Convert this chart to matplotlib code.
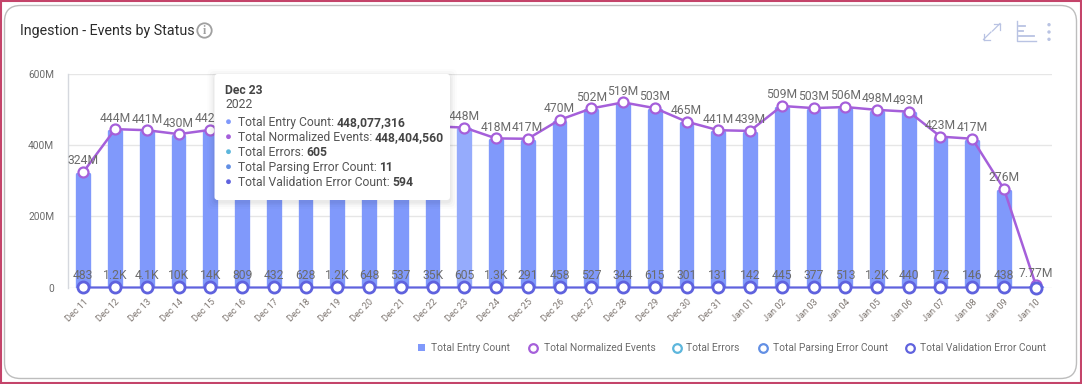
import matplotlib
matplotlib.use("Agg")
import matplotlib.pyplot as plt
from matplotlib.patches import FancyBboxPatch, Rectangle, Circle
from matplotlib.lines import Line2D

plt.rcParams["font.family"] = ["Roboto", "DejaVu Sans"]

W, H = 1082, 384

days = ["Dec 11", "Dec 12", "Dec 13", "Dec 14", "Dec 15", "Dec 16", "Dec 17", "Dec 18",
        "Dec 19", "Dec 20", "Dec 21", "Dec 22", "Dec 23", "Dec 24", "Dec 25", "Dec 26",
        "Dec 27", "Dec 28", "Dec 29", "Dec 30", "Dec 31", "Jan 01", "Jan 02", "Jan 03",
        "Jan 04", "Jan 05", "Jan 06", "Jan 07", "Jan 08", "Jan 09", "Jan 10"]
# millions, Dec 16 - Dec 22 sit behind the tooltip so those are guesses
entry_m = [324, 444, 441, 430, 442, 446, 441, 447, 443, 450, 446, 452, 448.08, 418, 417, 470,
           502, 519, 503, 465, 441, 439, 509, 503, 506, 498, 493, 423, 417, 276, 7.77]
normalized_m = [324, 444, 441, 430, 442, 446, 441, 447, 443, 450, 446, 452, 448.4, 418, 417, 470,
                502, 519, 503, 465, 441, 439, 509, 503, 506, 498, 493, 423, 417, 276, 7.77]
normalized_labels = ["324M", "444M", "441M", "430M", "442M", "446M", "441M", "447M", "443M", "450M",
                     "446M", "452M", "448M", "418M", "417M", "470M", "502M", "519M", "503M", "465M",
                     "441M", "439M", "509M", "503M", "506M", "498M", "493M", "423M", "417M", "276M", "7.77M"]
errors = [483, 1200, 4100, 10000, 14000, 809, 432, 628, 1200, 648, 537, 35000, 605, 1300, 291, 458,
          527, 344, 615, 301, 131, 142, 445, 377, 513, 1200, 440, 172, 146, 438, 0]
error_labels = ["483", "1.2K", "4.1K", "10K", "14K", "809", "432", "628", "1.2K", "648", "537", "35K",
                "605", "1.3K", "291", "458", "527", "344", "615", "301", "131", "142", "445", "377",
                "513", "1.2K", "440", "172", "146", "438", ""]
yticks = [0, 200e6, 400e6, 600e6]
ytick_labels = ["0", "200M", "400M", "600M"]
hovered = "Dec 23"

tip_title = "Dec 23"
tip_year = "2022"
tip_names = ["Total Entry Count: ", "Total Normalized Events: ", "Total Errors: ",
             "Total Parsing Error Count: ", "Total Validation Error Count: "]
tip_values = ["448,077,316", "448,404,560", "605", "11", "594"]

BAR = "#8099FB"
BAR_HOVER = "#95ABFC"
PURPLE = "#A55FDA"
ERR = "#5CB6DC"
PARSE = "#628FE4"
VALID = "#5F62DE"
GREY = "#6b6b6b"
ICON = "#B9C3E3"

fig = plt.figure(figsize=(W / 100, H / 100), dpi=100, facecolor="white")


def pixel_axes(z):
    a = fig.add_axes([0, 0, 1, 1], zorder=z)
    a.set_xlim(0, W)
    a.set_ylim(H, 0)
    a.axis("off")
    return a


# ----- CARD BEHIND THE CHART -----
back = pixel_axes(-1)
back.add_patch(Rectangle((1, 1), W - 2, H - 2, fill=False, ec="#C4446A", lw=1.5))
back.add_patch(FancyBboxPatch((20, 21), W - 40 - 2, H - 42 - 1, boxstyle="round,pad=0,rounding_size=16",
                              fc="white", ec="none"))
back.add_patch(FancyBboxPatch((4.5, 5.5), W - 9 - 1, H - 11 - 0, boxstyle="round,pad=0,rounding_size=16",
                              fc="white", ec="#BDBDBD", lw=1))
back.text(20, 30.5, "Ingestion - Events by Status", fontsize=10.3, color="#2b2b2b", va="center")
back.add_patch(Circle((204.5, 30.5), 7.2, fill=False, ec="#A0A0A0", lw=1.3))
back.text(204.5, 30.8, "i", fontsize=8.5, color="#A0A0A0", ha="center", va="center",
          family=["Liberation Serif"], weight="bold")

# expand icon
for seg in [((992.5, 31), (1000, 23.5)), ((994, 23.5), (1000, 23.5)), ((1000, 23.5), (1000, 29.5)),
            ((991, 32), (983.5, 39.5)), ((983.5, 33.5), (983.5, 39.5)), ((983.5, 39.5), (989.5, 39.5))]:
    back.plot([seg[0][0], seg[1][0]], [seg[0][1], seg[1][1]], color=ICON, lw=0.9)
# bars icon
back.plot([1016.5, 1016.5, 1036], [21, 40.5, 40.5], color=ICON, lw=1)
for yy, xe in [(25.5, 1025), (31, 1023), (35.5, 1034)]:
    back.plot([1019, xe], [yy, yy], color=ICON, lw=1.3)
for yy in [24.7, 32, 39.3]:
    back.add_patch(Circle((1049, yy), 1.7, fc=ICON, ec="none"))

# ----- CHART -----
left, right, top, bottom = 67.5, 1051.6, 73.5, 287.5
ax = fig.add_axes([left / W, 1 - bottom / H, (right - left) / W, (bottom - top) / H], facecolor="none")
x = list(range(len(days)))
entry = [v * 1e6 for v in entry_m]
normalized = [v * 1e6 for v in normalized_m]

bar_colors = [BAR_HOVER if d == hovered else BAR for d in days]
# thick round edge on a narrower bar gives the rounded top
ax.bar(x, [v - 5e6 for v in entry], width=0.37, color=bar_colors, edgecolor=bar_colors,
       linewidth=2.4, joinstyle="round", zorder=2)

ax.plot(x, normalized, color=PURPLE, lw=1.8, marker="o", ms=7.2, mfc="white", mec=PURPLE, mew=1.6,
        zorder=4, clip_on=False)
ax.plot(x, errors, color=VALID, lw=1.6, marker="o", ms=8, mfc="white", mec=VALID, mew=2,
        zorder=5, clip_on=False)

for i in x:
    ax.annotate(normalized_labels[i], (i, normalized[i]), xytext=(0, 8), textcoords="offset points",
                ha="center", va="center", fontsize=8.7, color=GREY, zorder=6)
    if error_labels[i]:
        ax.annotate(error_labels[i], (i, 0), xytext=(0, 8.5), textcoords="offset points",
                    ha="center", va="center", fontsize=8.7, color=GREY, zorder=6)

ax.set_xlim(-0.5, len(days) - 0.5)
ax.set_ylim(0, 600e6)
ax.set_yticks(yticks)
ax.set_yticklabels(ytick_labels, fontsize=7.3, color=GREY)
ax.set_xticks(x)
ax.set_xticklabels(days, fontsize=6.6, color="#7d7570", rotation=45, ha="right", rotation_mode="anchor")
ax.tick_params(axis="both", length=0)
ax.tick_params(axis="y", pad=9.5)
ax.tick_params(axis="x", pad=7)
ax.grid(axis="y", color="#E6E6E6", lw=1, zorder=0)
ax.set_axisbelow(True)
for s in ["top", "right", "bottom"]:
    ax.spines[s].set_visible(False)
ax.spines["left"].set_color("#D5D8DE")
ax.spines["left"].set_linewidth(1)

# ----- OVERLAY: LEGEND AND TOOLTIP -----
over = pixel_axes(10)
leg_y = 347.7
over.add_patch(Rectangle((417.5, leg_y - 3.5), 7, 7, fc=BAR, ec="none"))
over.text(431, leg_y, "Total Entry Count", fontsize=7.4, color=GREY, va="center")
for mx, tx, c, name in [(533, 543.5, PURPLE, "Total Normalized Events"),
                        (677, 686, ERR, "Total Errors"),
                        (763, 773, PARSE, "Total Parsing Error Count"),
                        (910, 920, VALID, "Total Validation Error Count")]:
    over.add_line(Line2D([mx], [leg_y], marker="o", ms=6.2, mfc="white", mec=c, mew=1.6))
    over.text(tx, leg_y, name, fontsize=7.4, color=GREY, va="center")

tx0, ty0, tw, th = 214.5, 74, 235.5, 126
for grow, alpha in [(7, 0.012), (5, 0.018), (3, 0.025), (1.5, 0.03)]:
    over.add_patch(FancyBboxPatch((tx0 - grow, ty0 - grow + 2), tw + 2 * grow, th + 2 * grow,
                                  boxstyle="round,pad=0,rounding_size=5", fc="black", ec="none", alpha=alpha))
over.add_patch(FancyBboxPatch((tx0, ty0), tw, th, boxstyle="round,pad=0,rounding_size=3", fc="white", ec="none"))
over.text(225, 90.5, tip_title, fontsize=8.7, weight="bold", color="#444444", va="center")
over.text(225, 104.5, tip_year, fontsize=8.7, color="#555555", va="center")
tip_dots = [BAR, PURPLE, ERR, PARSE, VALID]
for k in range(len(tip_names)):
    yy = 121.7 + 15 * k
    over.add_patch(Circle((228.5, yy), 2.4, fc=tip_dots[k], ec="none"))
    t = over.text(237.7, yy, tip_names[k], fontsize=8.7, color="#555555", va="baseline",
                  transform=over.transData + matplotlib.transforms.ScaledTranslation(0, -3 / 72, fig.dpi_scale_trans))
    over.annotate(tip_values[k], xy=(1, 0), xycoords=t, fontsize=8.7, weight="bold", color="#444444",
                  va="bottom", ha="left")

fig.savefig("out.png", dpi=100)
